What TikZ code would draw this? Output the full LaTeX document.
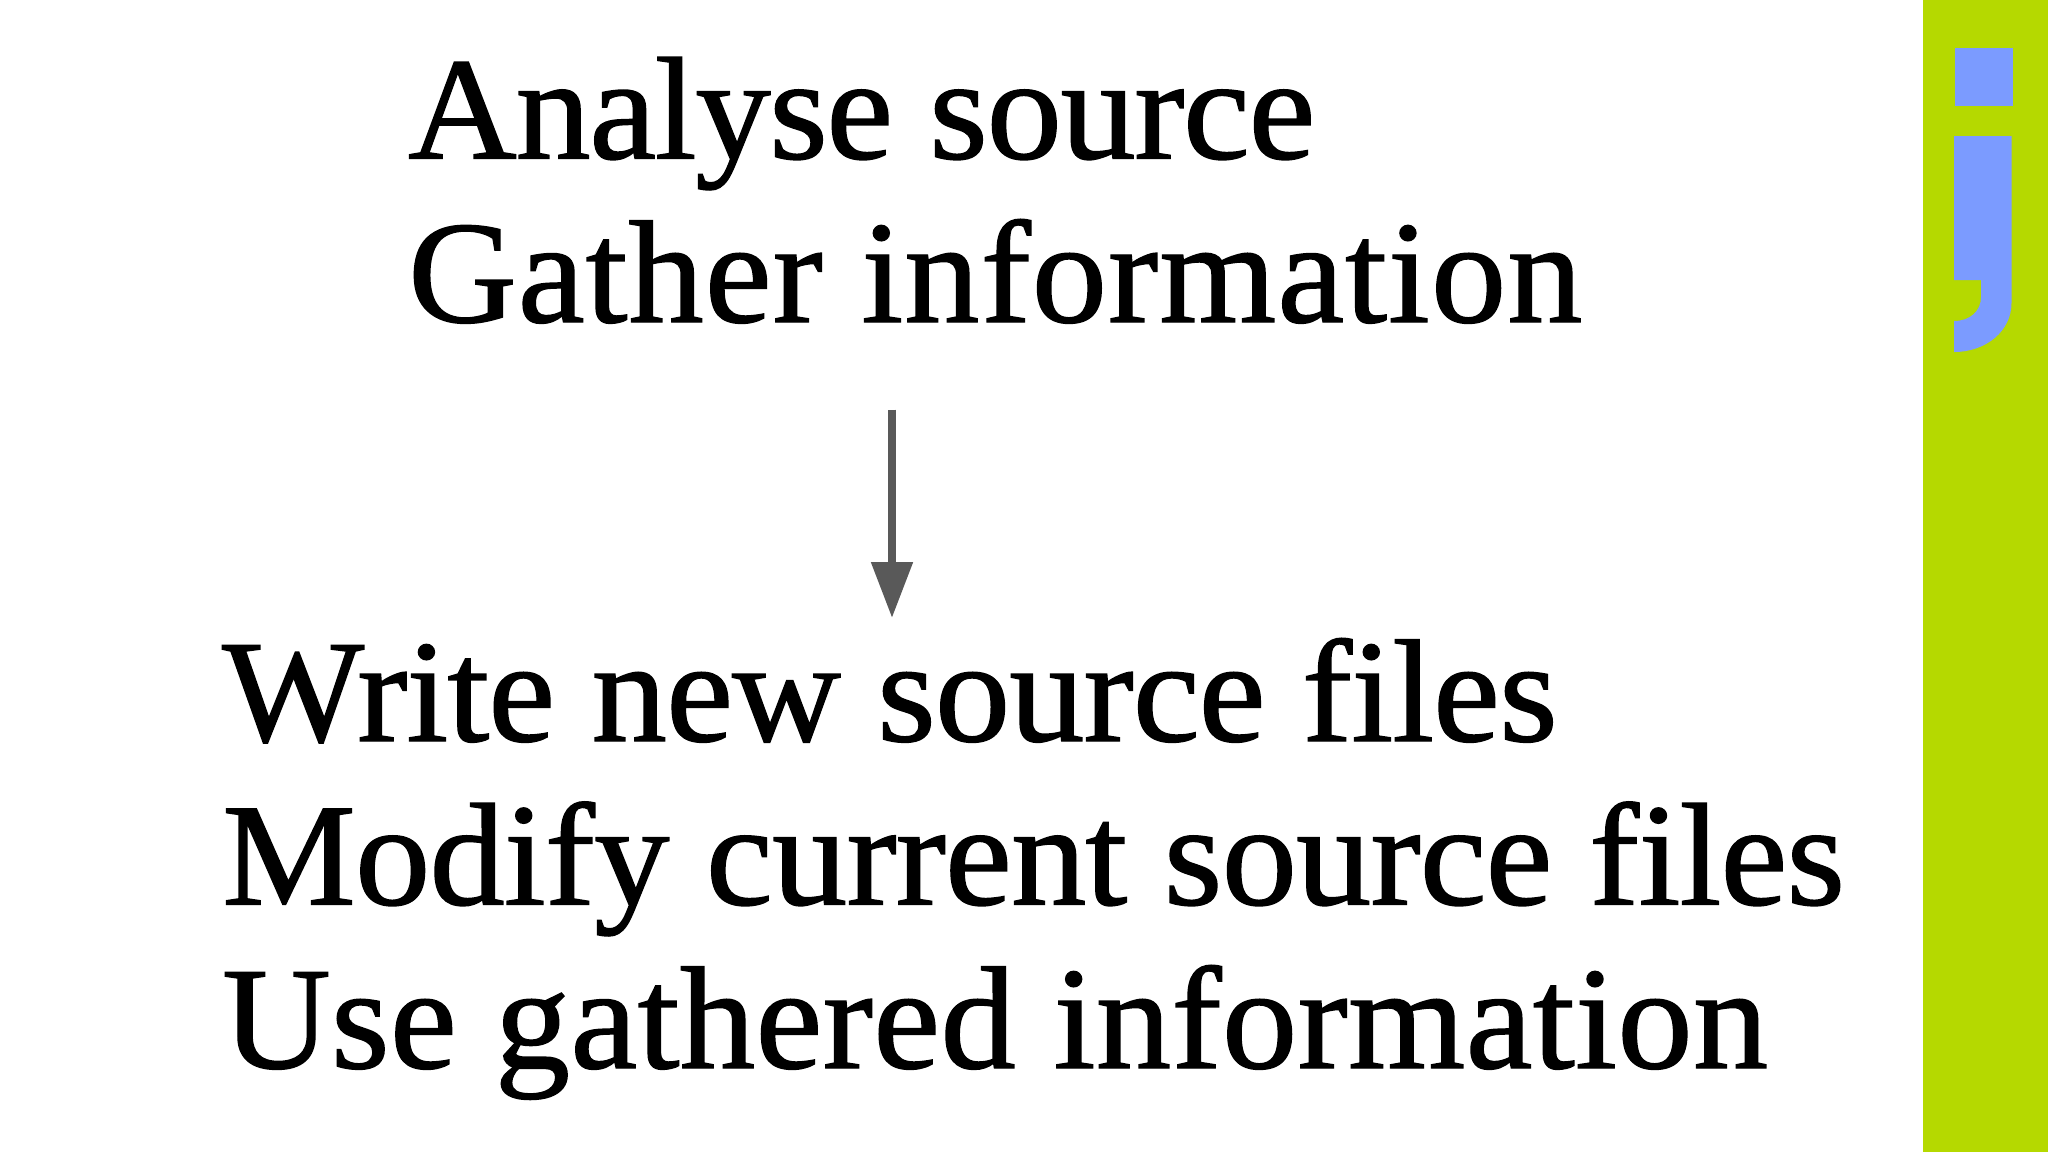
\documentclass[tikz,border=0pt]{standalone}
\usepackage{fontspec}
\setmainfont[FakeStretch=1.03,FakeBold=1.0]{Liberation Serif}
\usetikzlibrary{arrows.meta}
\definecolor{barGreen}{HTML}{B5D900}
\definecolor{logoBlue}{HTML}{7B9BFF}
\definecolor{flowGrey}{HTML}{595959}
\newcommand{\tracked}[2]{{\addfontfeatures{LetterSpace=#1}#2}}
\tikzset{
  block/.style={anchor=north west, align=left, inner sep=0pt, text=black,
    font=\fontsize{146}{163.5}\selectfont},
  flow/.style={draw=flowGrey, line width=8.3pt, shorten <=86pt, shorten >=20pt,
    -{Triangle[width=40pt,length=56pt,fill=flowGrey]}},
  logo/.style={fill=logoBlue, draw=none}
}
\begin{document}
\begin{tikzpicture}[x=1pt, y=-1pt]
\useasboundingbox (0,0) rectangle (2048,1152);
\fill[white] (0,0) rectangle (2048,1152);
% side bar and logo
\fill[barGreen] (1923,0) rectangle (2048,1152);
\fill[logo] (1955,48) rectangle (2012.5,106);
\fill[logo] (1954,136) -- (2011.5,136) -- (2011.5,303)
  .. controls (2011.5,331) and (1986,352) .. (1954,352) -- (1954,321)
  .. controls (1970,321) and (1981,311) .. (1981,297) -- (1981,280) -- (1954,280) -- cycle;
% text
\node[block] (source) at (408,57) {\tracked{-0.9}{Analyse source}\\\tracked{0.75}{Gather information}};
\node[block] (target) at (222,638) {\tracked{-0.6}{Write new source files}\\
  \tracked{-0.55}{Modify current source files}\\\tracked{0.3}{Use gathered information}};
% connector
\coordinate (flowx) at (892,0);
\draw[flow] (source.south -| flowx) -- (target.north -| flowx);
\end{tikzpicture}
\end{document}
